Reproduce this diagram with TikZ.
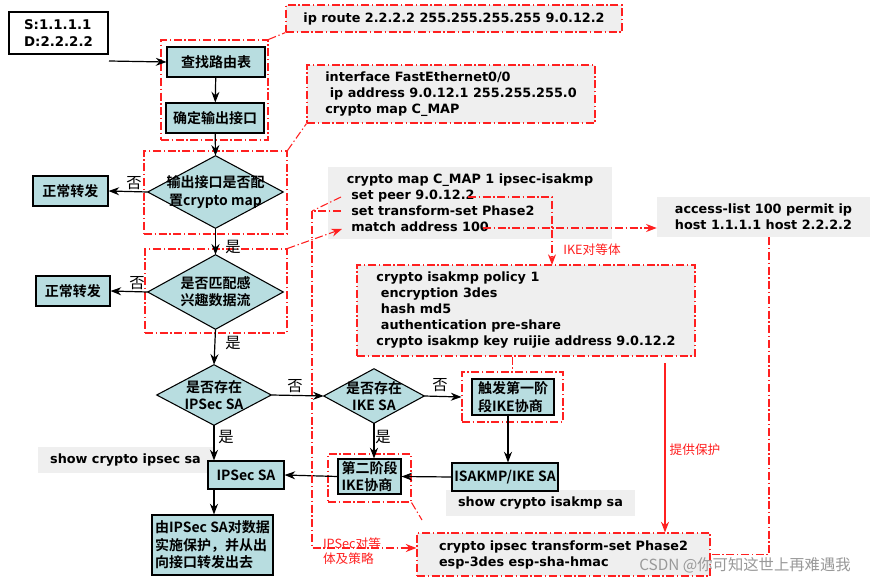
\documentclass[tikz,border=0pt]{standalone}
\usepackage{fontspec}
\setmainfont{DejaVu Sans}
\newfontfamily\cjk{Noto Sans CJK SC}[BoldFont={Noto Sans CJK SC Bold}]
\usetikzlibrary{arrows.meta}
\definecolor{bfill}{HTML}{B8DDE0}
\definecolor{gfill}{HTML}{EFEFEF}
\definecolor{rd}{HTML}{FF2020}
\newcommand\bx[7]{\node[#6,minimum width={(#4-#2)*0.75pt},minimum height={(#5-#3)*0.75pt}] (#1) at ({(#2+#4)/2},{(#3+#5)/2}) {#7};}
\newcommand\dm[6]{\node[minimum width={#4*0.75pt},minimum height={#5*0.75pt},inner sep=0pt] (#1) at (#2,#3) {};
\draw[fill=bfill,line width=0.8pt] (#1.north)--(#1.east)--(#1.south)--(#1.west)--cycle;
\node[cn,align=center] (#1t) at (#1) {#6};}
\tikzset{
 cn/.style={font=\cjk\bfseries\fontsize{10.5}{13}\selectfont,inner sep=0pt},
 box/.style={draw,fill=bfill,line width=0.8pt,cn,align=center},
 code/.style={fill=gfill,font=\bfseries\fontsize{9.6}{12}\selectfont,align=left,inner sep=0pt},
 rdd/.style={draw=rd,line width=0.8pt,dash pattern=on 6pt off 2pt on 1pt off 2pt},
 rdl/.style={rdd,rd},
 frame/.style={rdd,inner sep=0pt},
 arr/.style={-{Stealth[length=8pt,width=6pt]},black,line width=0.9pt},
 rarr/.style={-{Stealth[length=8pt,width=6pt]}},
 yn/.style={font=\cjk\fontsize{11.5}{13}\selectfont,inner sep=0pt},
 rl/.style={font=\cjk\fontsize{9.5}{11.5}\selectfont,text=rd,inner sep=0pt,align=left},
}
\begin{document}
\begin{tikzpicture}[x=0.75pt,y=-0.75pt]
\useasboundingbox[fill=white] (0,0) rectangle (883,585);
% gray code boxes
\bx{ipr}{286}{5}{622}{32}{code,rdd}{ip route 2.2.2.2 255.255.255.255 9.0.12.2}
\bx{ifc}{307}{65}{595}{123}{code,rdd}{interface FastEthernet0/0\\\ ip address 9.0.12.1 255.255.255.0\\crypto map C\_MAP}
\bx{cmap}{328}{167}{612}{239}{code}{crypto map C\_MAP 1 ipsec-isakmp\\\ set peer 9.0.12.2\\\ set transform-set Phase2\\\ match address 100}
\bx{acl}{657}{197}{870}{237}{code}{access-list 100 permit ip\\host 1.1.1.1 host 2.2.2.2}
\bx{isk}{357}{265}{695}{356}{code,rdd}{crypto isakmp policy 1\\\ encryption 3des\\\ hash md5\\\ authentication pre-share\\crypto isakmp key ruijie address 9.0.12.2}
\bx{shi}{446}{490}{635}{516}{code}{show crypto isakmp sa}
\bx{shp}{38}{447}{213}{473}{code}{show crypto ipsec sa}
\bx{ts}{417}{533}{710}{576}{code,rdd}{crypto ipsec transform-set Phase2\\esp-3des esp-sha-hmac}
% frames
\bx{f1}{161}{40}{268}{140}{frame}{}
\bx{f2}{144}{151}{287}{234}{frame}{}
\bx{f3}{145}{249}{287}{333}{frame}{}
\bx{f5}{462}{372}{563}{422}{frame}{}
\bx{f6}{328}{454}{411}{502}{frame}{}
% boxes
\node[draw,line width=0.8pt,minimum width=74.25pt,minimum height=31.5pt,font=\bfseries\fontsize{10}{12.5}\selectfont,align=left] (sd) at (58.5,33) {S:1.1.1.1\\D:2.2.2.2};
\bx{lu}{167}{47}{265}{77}{box}{查找路由表}
\bx{oi}{166}{103}{264}{133}{box}{确定输出接口}
\dm{d1}{215.5}{192}{135}{72}{输出接口是否配\\置crypto map}
\bx{n1}{33}{176}{108}{206}{box}{正常转发}
\dm{d2}{215.5}{292}{135}{74}{是否匹配感\\兴趣数据流}
\bx{n2}{36}{276}{110}{306}{box}{正常转发}
\dm{d3}{214}{395}{114}{60}{是否存在\\IPSec SA}
\dm{d4}{374}{396}{100}{54}{是否存在\\IKE SA}
\bx{tr}{472}{379}{554}{415}{box,align=left}{触发第一阶\\段IKE协商}
\bx{ik}{452}{463}{558}{491}{box}{ISAKMP/IKE SA}
\bx{p2}{338}{459}{401}{494}{box,align=left}{第二阶段\\IKE协商}
\bx{ps}{208}{461}{284}{489}{box}{IPSec SA}
\bx{fin}{152}{515}{273}{575}{box,align=left}{由IPSec SA对数据\\实施保护，并从出\\向接口转发出去}
% black arrows
\coordinate (st) at (109,61);
\draw[arr] (st) -- (lu.west);
\draw[arr] (lu) -- (oi);
\draw[arr] (oi) -- (d1.north);
\draw[arr] (d1.west) -- (n1.east);
\draw[arr] (d1.south) -- (d2.north);
\draw[arr] (d2.west) -- (n2.east);
\draw[arr] (d2.south) -- (d3.north);
\draw[arr] (d3.east) -- (d4.west);
\draw[arr] (d4.east) -- (f5.west);
\draw[arr] (tr.south -| 508,0) -- (ik.north -| 508,0);
\draw[arr] (ik.west) -- (p2.east);
\draw[arr] (d4.south) -- (d4.south |- p2.north);
\draw[arr] (p2.west) -- (ps.east);
\draw[arr] (d3.south) -- (d3.south |- ps.north);
\draw[arr] (d3.south |- ps.south) -- (d3.south |- fin.north);
% yes/no labels
\node[yn] (l1) at (134,183) {否};
\node[yn] (l2) at (233,247) {是};
\node[yn] (l3) at (137,283) {否};
\node[yn] (l4) at (233,343) {是};
\node[yn] (l5) at (295,386) {否};
\node[yn] (l6) at (226,437) {是};
\node[yn] (l7) at (440,385) {否};
\node[yn] (l8) at (383,437) {是};
% red connectors
\draw[rdl] (f1.north east) -- (ipr.south west);
\draw[rdl] (f2.north east) -- (ifc.south west);
\coordinate (ma0) at (342,229);
\draw[rdl,rarr] (f3.north east) -- (ma0);
\coordinate (sp) at (468,197);
\coordinate (ikt) at (552,265);
\draw[rdl,rarr] (sp) -| (ikt);
\node[rl] (lik) at (592,250) {IKE对等体};
\coordinate (ma) at (483,228);
\draw[rdl,rarr] (ma) -- (acl.west |- ma);
\coordinate (sp2) at (341,197);
\coordinate (stf) at (341,211);
\draw[rdl] (sp2) -- (312,211);
\draw[rdl,rarr] (stf) -- (312,211) |- (ts.west |- 0,548);
\node[rl] (lps) at (352,551) {IPSec对等\\体及策略};
\draw[rdl] (acl.south -| 769,0) |- (ts.east);
\draw[rdl] (isk.south -| f5.north) -- (f5.north);
\coordinate (f6e) at (422,520);
\draw[rdl] (f6.south east) -- (f6e);
\coordinate (pp) at (665,363);
\draw[rd,line width=0.8pt,rarr] (pp) -- (pp |- ts.north);
\node[rl] (lpp) at (695,450) {提供保护};
\node[font=\cjk\fontsize{11.5}{13}\selectfont,text=black!40,inner sep=0pt] (wm) at (745,565) {CSDN @你可知这世上再难遇我};
\end{tikzpicture}
\end{document}
